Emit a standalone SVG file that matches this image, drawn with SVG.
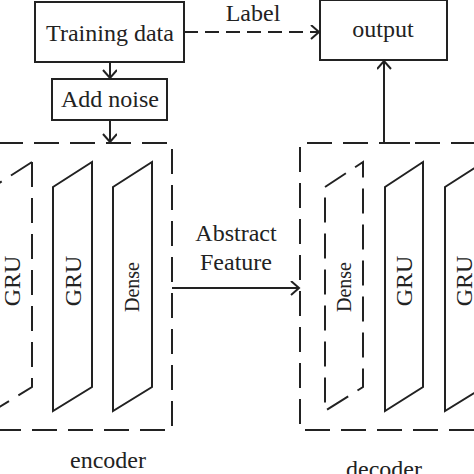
<svg xmlns="http://www.w3.org/2000/svg" width="474" height="474" viewBox="0 0 474 474">
<defs>
<style>
.box{fill:#fff;stroke:#222;stroke-width:2}
.grp{fill:none;stroke:#222;stroke-width:2;stroke-dasharray:25 11}
.sol{fill:#fff;stroke:#222;stroke-width:2}
.dsh{fill:none;stroke:#222;stroke-width:2;stroke-dasharray:25 11}
.ln{fill:none;stroke:#222;stroke-width:2}
.lbl{fill:none;stroke:#222;stroke-width:2;stroke-dasharray:14 7}
text{font-family:"Liberation Serif","Times New Roman",serif;fill:#222;font-size:24px;text-anchor:middle}
.sm{font-size:20px}
</style>
<marker id="ah" markerUnits="userSpaceOnUse" markerWidth="12" markerHeight="16" refX="9" refY="7" orient="auto" viewBox="0 0 12 16">
<path d="M1,0 L9,7 L1,14" fill="none" stroke="#222" stroke-width="2"/>
</marker>
</defs>
<rect width="474" height="474" fill="#fff"/>
<g id="encoder">
<path class="grp" d="M-2,143 H172 V430 H-2"/>
<text x="108" y="468">encoder</text>
</g>
<g id="decoder">
<path class="grp" d="M476,143 H300 V430 H476"/>
<text x="384" y="477">decoder</text>
</g>
<g id="enc-gru1">
<path class="dsh" d="M32,162 V387 L-7,411 M32,162 L-7,187"/>
<text x="0" y="0" transform="translate(20,281) rotate(-90)">GRU</text>
</g>
<g id="enc-gru2">
<path class="sol" d="M53,187 L92,162 V387 L53,411 Z"/>
<text x="0" y="0" transform="translate(81,281) rotate(-90)">GRU</text>
</g>
<g id="enc-dense">
<path class="sol" d="M113,187 L152,162 V387 L113,411 Z"/>
<text class="sm" x="0" y="0" transform="translate(139,287) rotate(-90)">Dense</text>
</g>
<g id="dec-dense">
<path class="dsh" d="M325,187 L363,162 V387 L325,411 Z"/>
<text class="sm" x="0" y="0" transform="translate(351,287) rotate(-90)">Dense</text>
</g>
<g id="dec-gru1">
<path class="sol" d="M385,187 L423,162 V387 L385,411 Z"/>
<text x="0" y="0" transform="translate(412,281) rotate(-90)">GRU</text>
</g>
<g id="dec-gru2">
<path class="sol" d="M445,187 L484,162 V387 L445,411 Z"/>
<text x="0" y="0" transform="translate(472,281) rotate(-90)">GRU</text>
</g>
<g id="training-data">
<rect class="box" x="35" y="2" width="149" height="60"/>
<text x="110" y="41">Training data</text>
</g>
<g id="add-noise">
<rect class="box" x="52" y="79" width="115" height="41"/>
<text x="110" y="107">Add noise</text>
</g>
<g id="output">
<rect class="box" x="320" y="0" width="127" height="60"/>
<text x="383" y="37">output</text>
</g>
<g id="connectors">
<line class="ln" x1="110" y1="62" x2="110" y2="78" marker-end="url(#ah)"/>
<line class="ln" x1="110" y1="120" x2="110" y2="142" marker-end="url(#ah)"/>
<line class="lbl" x1="184" y1="32" x2="319" y2="32" marker-end="url(#ah)"/>
<line class="ln" x1="172" y1="288" x2="299" y2="288" marker-end="url(#ah)"/>
<line class="ln" x1="384" y1="143" x2="384" y2="61" marker-end="url(#ah)"/>
<line class="ln" x1="384" y1="143" x2="410" y2="143"/>
<text x="253" y="21">Label</text>
<text x="236" y="241">Abstract</text>
<text x="236" y="270">Feature</text>
</g>
</svg>
